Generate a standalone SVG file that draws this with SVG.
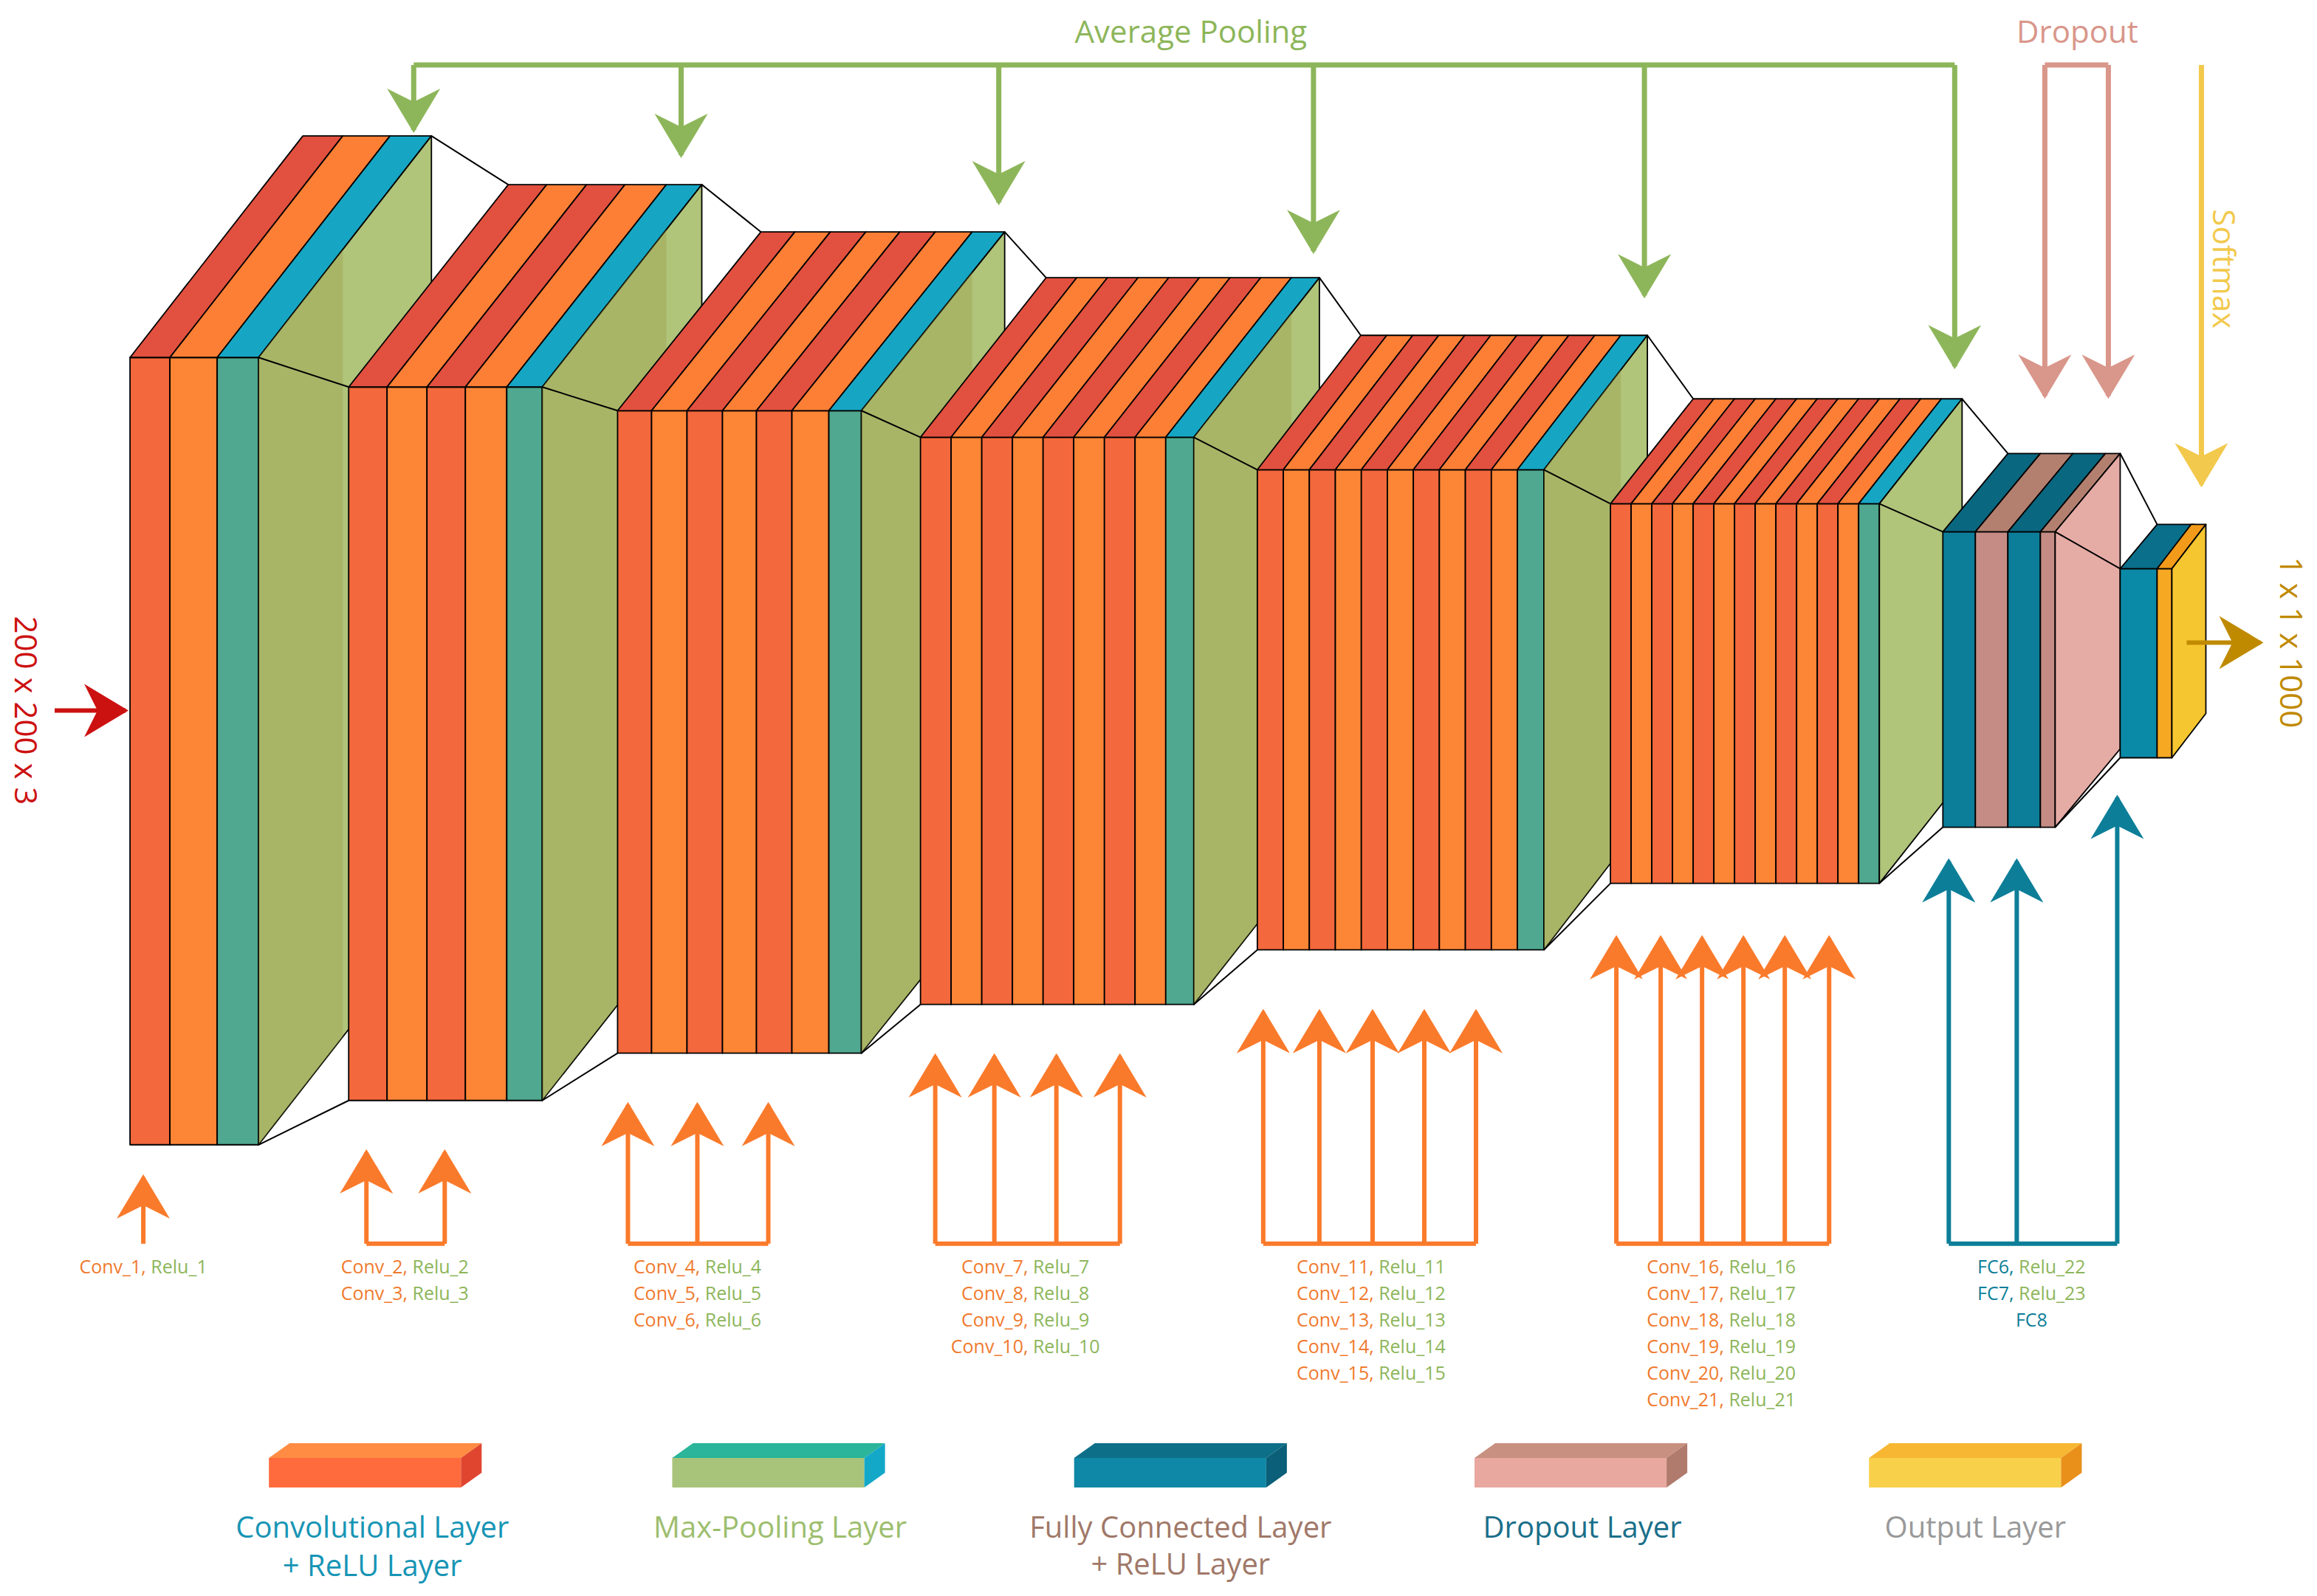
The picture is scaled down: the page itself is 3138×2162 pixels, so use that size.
<svg xmlns="http://www.w3.org/2000/svg" width="3138" height="2162" viewBox="0 0 3138 2162">
<style>
text{font-family:"Open Sans","Noto Sans",sans-serif}
.ol{stroke:#000;stroke-width:0.9;stroke-linejoin:round}
.cfa{fill:#F3683C}.cfb{fill:#FD8536}
.cta{fill:#E2503F}.ctb{fill:#FC7F35}
.pf{fill:#4FA88F}.pt{fill:#16A6C4}.ps{fill:#A2BA63;fill-opacity:0.85}
.ff{fill:#0C7E9A}.ft{fill:#0A6780}.df{fill:#C48C84}.dt{fill:#B38070}.ds{fill:#E2A39B;fill-opacity:0.9}
.ln{fill:none;stroke:#000;stroke-width:1}
.g{fill:none;stroke:#8DB65A;stroke-width:3.5}
.o{fill:none;stroke:#FA7A2B;stroke-width:3}
.t{fill:none;stroke:#0D7E98;stroke-width:3}
.lb{font-size:12.5px;text-anchor:middle}
.co{fill:#F07A2E}.re{fill:#8DB65A}.fc{fill:#0D7E98}
.lg{font-size:20px;text-anchor:middle}
.ov{fill:#9A9A45;fill-opacity:0.35}
</style>
<defs>
<marker id="mg" viewBox="0 0 30 36" refX="28" refY="18" markerWidth="30" markerHeight="36" orient="auto" markerUnits="userSpaceOnUse"><path d="M0,0 L30,18 L0,36 L9,18z" fill="#8DB65A"/></marker>
<marker id="mp" viewBox="0 0 30 36" refX="28" refY="18" markerWidth="30" markerHeight="36" orient="auto" markerUnits="userSpaceOnUse"><path d="M0,0 L30,18 L0,36 L9,18z" fill="#D9968A"/></marker>
<marker id="my" viewBox="0 0 30 36" refX="28" refY="18" markerWidth="30" markerHeight="36" orient="auto" markerUnits="userSpaceOnUse"><path d="M0,0 L30,18 L0,36 L9,18z" fill="#F2C94C"/></marker>
<marker id="mo" viewBox="0 0 30 36" refX="28" refY="18" markerWidth="30" markerHeight="36" orient="auto" markerUnits="userSpaceOnUse"><path d="M0,0 L30,18 L0,36 L9,18z" fill="#FA7A2B"/></marker>
<marker id="mt" viewBox="0 0 30 36" refX="28" refY="18" markerWidth="30" markerHeight="36" orient="auto" markerUnits="userSpaceOnUse"><path d="M0,0 L30,18 L0,36 L9,18z" fill="#0D7E98"/></marker>
<marker id="mr" viewBox="0 0 30 36" refX="28" refY="18" markerWidth="30" markerHeight="36" orient="auto" markerUnits="userSpaceOnUse"><path d="M0,0 L30,18 L0,36 L9,18z" fill="#CC1111"/></marker>
<marker id="mk" viewBox="0 0 30 36" refX="28" refY="18" markerWidth="30" markerHeight="36" orient="auto" markerUnits="userSpaceOnUse"><path d="M0,0 L30,18 L0,36 L9,18z" fill="#C08A00"/></marker>
</defs>
<rect width="3138" height="2162" fill="#fff"/>
<g transform="scale(2.001)">
<g id="block1" class="ol">
<rect class="cfa" x="88" y="242" width="27" height="533"/><path class="cta" d="M88,242 l117,-150 h27 l-117,150z"/>
<rect class="cfb" x="115" y="242" width="32" height="533"/><path class="ctb" d="M115,242 l117,-150 h32 l-117,150z"/>
<rect class="pf" x="147" y="242" width="28" height="533"/><path class="pt" d="M147,242 l117,-150 h28 l-117,150z"/>
<path class="ps" d="M175,242 l117,-150 v533 l-117,150z"/>
<path class="ov" stroke="none" d="M175,242 l57,-73 v533 l-57,73z"/>
</g>
<g id="block2" class="ol">
<rect class="cfa" x="236" y="262" width="26" height="483"/><path class="cta" d="M236,262 l108,-137 h26 l-108,137z"/>
<rect class="cfb" x="262" y="262" width="27" height="483"/><path class="ctb" d="M262,262 l108,-137 h27 l-108,137z"/>
<rect class="cfa" x="289" y="262" width="26" height="483"/><path class="cta" d="M289,262 l108,-137 h26 l-108,137z"/>
<rect class="cfb" x="315" y="262" width="28" height="483"/><path class="ctb" d="M315,262 l108,-137 h28 l-108,137z"/>
<rect class="pf" x="343" y="262" width="24" height="483"/><path class="pt" d="M343,262 l108,-137 h24 l-108,137z"/>
<path class="ps" d="M367,262 l108,-137 v483 l-108,137z"/>
<path class="ov" stroke="none" d="M367,262 l84,-107 v483 l-84,107z"/>
</g>
<g id="block3" class="ol">
<rect class="cfa" x="418" y="278" width="23" height="435"/><path class="cta" d="M418,278 l97,-121 h23 l-97,121z"/>
<rect class="cfb" x="441" y="278" width="24" height="435"/><path class="ctb" d="M441,278 l97,-121 h24 l-97,121z"/>
<rect class="cfa" x="465" y="278" width="24" height="435"/><path class="cta" d="M465,278 l97,-121 h24 l-97,121z"/>
<rect class="cfb" x="489" y="278" width="23" height="435"/><path class="ctb" d="M489,278 l97,-121 h23 l-97,121z"/>
<rect class="cfa" x="512" y="278" width="24" height="435"/><path class="cta" d="M512,278 l97,-121 h24 l-97,121z"/>
<rect class="cfb" x="536" y="278" width="25" height="435"/><path class="ctb" d="M536,278 l97,-121 h25 l-97,121z"/>
<rect class="pf" x="561" y="278" width="22" height="435"/><path class="pt" d="M561,278 l97,-121 h22 l-97,121z"/>
<path class="ps" d="M583,278 l97,-121 v435 l-97,121z"/>
<path class="ov" stroke="none" d="M583,278 l75,-94 v435 l-75,94z"/>
</g>
<g id="block4" class="ol">
<rect class="cfa" x="623" y="296" width="20.75" height="384"/><path class="cta" d="M623,296 l85,-108 h20.75 l-85,108z"/>
<rect class="cfb" x="643.75" y="296" width="20.75" height="384"/><path class="ctb" d="M643.75,296 l85,-108 h20.75 l-85,108z"/>
<rect class="cfa" x="664.5" y="296" width="20.75" height="384"/><path class="cta" d="M664.5,296 l85,-108 h20.75 l-85,108z"/>
<rect class="cfb" x="685.25" y="296" width="20.75" height="384"/><path class="ctb" d="M685.25,296 l85,-108 h20.75 l-85,108z"/>
<rect class="cfa" x="706" y="296" width="20.75" height="384"/><path class="cta" d="M706,296 l85,-108 h20.75 l-85,108z"/>
<rect class="cfb" x="726.75" y="296" width="20.75" height="384"/><path class="ctb" d="M726.75,296 l85,-108 h20.75 l-85,108z"/>
<rect class="cfa" x="747.5" y="296" width="20.75" height="384"/><path class="cta" d="M747.5,296 l85,-108 h20.75 l-85,108z"/>
<rect class="cfb" x="768.25" y="296" width="20.75" height="384"/><path class="ctb" d="M768.25,296 l85,-108 h20.75 l-85,108z"/>
<rect class="pf" x="789" y="296" width="19" height="384"/><path class="pt" d="M789,296 l85,-108 h19 l-85,108z"/>
<path class="ps" d="M808,296 l85,-108 v384 l-85,108z"/>
<path class="ov" stroke="none" d="M808,296 l66,-84 v384 l-66,84z"/>
</g>
<g id="block5" class="ol">
<rect class="cfa" x="851" y="318" width="17.6" height="325"/><path class="cta" d="M851,318 l70,-91 h17.6 l-70,91z"/>
<rect class="cfb" x="868.6" y="318" width="17.6" height="325"/><path class="ctb" d="M868.6,318 l70,-91 h17.6 l-70,91z"/>
<rect class="cfa" x="886.2" y="318" width="17.6" height="325"/><path class="cta" d="M886.2,318 l70,-91 h17.6 l-70,91z"/>
<rect class="cfb" x="903.8" y="318" width="17.6" height="325"/><path class="ctb" d="M903.8,318 l70,-91 h17.6 l-70,91z"/>
<rect class="cfa" x="921.4" y="318" width="17.6" height="325"/><path class="cta" d="M921.4,318 l70,-91 h17.6 l-70,91z"/>
<rect class="cfb" x="939" y="318" width="17.6" height="325"/><path class="ctb" d="M939,318 l70,-91 h17.6 l-70,91z"/>
<rect class="cfa" x="956.6" y="318" width="17.6" height="325"/><path class="cta" d="M956.6,318 l70,-91 h17.6 l-70,91z"/>
<rect class="cfb" x="974.2" y="318" width="17.6" height="325"/><path class="ctb" d="M974.2,318 l70,-91 h17.6 l-70,91z"/>
<rect class="cfa" x="991.8" y="318" width="17.6" height="325"/><path class="cta" d="M991.8,318 l70,-91 h17.6 l-70,91z"/>
<rect class="cfb" x="1009.4" y="318" width="17.6" height="325"/><path class="ctb" d="M1009.4,318 l70,-91 h17.6 l-70,91z"/>
<rect class="pf" x="1027" y="318" width="18" height="325"/><path class="pt" d="M1027,318 l70,-91 h18 l-70,91z"/>
<path class="ps" d="M1045,318 l70,-91 v325 l-70,91z"/>
<path class="ov" stroke="none" d="M1045,318 l52,-68 v325 l-52,68z"/>
</g>
<g id="block6" class="ol">
<rect class="cfa" x="1090" y="341" width="14" height="257"/><path class="cta" d="M1090,341 l56,-71 h14 l-56,71z"/>
<rect class="cfb" x="1104" y="341" width="14" height="257"/><path class="ctb" d="M1104,341 l56,-71 h14 l-56,71z"/>
<rect class="cfa" x="1118" y="341" width="14" height="257"/><path class="cta" d="M1118,341 l56,-71 h14 l-56,71z"/>
<rect class="cfb" x="1132" y="341" width="14" height="257"/><path class="ctb" d="M1132,341 l56,-71 h14 l-56,71z"/>
<rect class="cfa" x="1146" y="341" width="14" height="257"/><path class="cta" d="M1146,341 l56,-71 h14 l-56,71z"/>
<rect class="cfb" x="1160" y="341" width="14" height="257"/><path class="ctb" d="M1160,341 l56,-71 h14 l-56,71z"/>
<rect class="cfa" x="1174" y="341" width="14" height="257"/><path class="cta" d="M1174,341 l56,-71 h14 l-56,71z"/>
<rect class="cfb" x="1188" y="341" width="14" height="257"/><path class="ctb" d="M1188,341 l56,-71 h14 l-56,71z"/>
<rect class="cfa" x="1202" y="341" width="14" height="257"/><path class="cta" d="M1202,341 l56,-71 h14 l-56,71z"/>
<rect class="cfb" x="1216" y="341" width="14" height="257"/><path class="ctb" d="M1216,341 l56,-71 h14 l-56,71z"/>
<rect class="cfa" x="1230" y="341" width="14" height="257"/><path class="cta" d="M1230,341 l56,-71 h14 l-56,71z"/>
<rect class="cfb" x="1244" y="341" width="14" height="257"/><path class="ctb" d="M1244,341 l56,-71 h14 l-56,71z"/>
<rect class="pf" x="1258" y="341" width="14" height="257"/><path class="pt" d="M1258,341 l56,-71 h14 l-56,71z"/>
<path class="ps" d="M1272,341 l56,-71 v257 l-56,71z"/>
</g>
<g id="block7" class="ol">
<rect class="ff" x="1315" y="360" width="22" height="200"/><path class="ft" d="M1315,360 l44,-53 h22 l-44,53z"/>
<rect class="df" x="1337" y="360" width="22" height="200"/><path class="dt" d="M1337,360 l44,-53 h22 l-44,53z"/>
<rect class="ff" x="1359" y="360" width="22" height="200"/><path class="ft" d="M1359,360 l44,-53 h22 l-44,53z"/>
<rect class="df" x="1381" y="360" width="10" height="200"/><path class="dt" d="M1381,360 l44,-53 h10 l-44,53z"/>
<path class="ds" d="M1391,360 l44,-53 v200 l-44,53z"/>
</g>
<g id="output" class="ol">
<rect fill="#0B8AA8" x="1435" y="385" width="25" height="128"/><path fill="#0A6F8A" d="M1435,385 l25,-30 h25 l-25,30z"/>
<rect fill="#F7A823" x="1460" y="385" width="10" height="128"/><path fill="#F29A1A" d="M1460,385 l23,-30 h10 l-23,30z"/>
<path fill="#F6C630" d="M1470,385 l23,-30 v128 l-23,30z"/>
</g>
<g id="connectors">
<path class="ln" d="M175,242L236,262M292,92L344,125M175,775L236,745M367,262L418,278M475,125L515,157M367,745L418,713M583,278L623,296M680,157L708,188M583,713L623,680M808,296L851,318M893,188L921,227M808,680L851,643M1045,318L1090,341M1115,227L1146,270M1045,643L1090,598M1272,341L1315,360M1328,270L1359,307M1272,598L1315,560M1391,360L1435,385M1435,307L1460,355M1391,560L1435,513"/>
<path class="g" d="M280,44H1323"/>
<path class="g" marker-end="url(#mg)" d="M280,44V88"/>
<path class="g" marker-end="url(#mg)" d="M461,44V105"/>
<path class="g" marker-end="url(#mg)" d="M676,44V137"/>
<path class="g" marker-end="url(#mg)" d="M889,44V170"/>
<path class="g" marker-end="url(#mg)" d="M1113,44V200"/>
<path class="g" marker-end="url(#mg)" d="M1323,44V248"/>
<path fill="none" stroke="#D9968A" stroke-width="3.5" d="M1384,44H1427"/>
<path fill="none" stroke="#D9968A" stroke-width="3.5" marker-end="url(#mp)" d="M1384,44V268"/>
<path fill="none" stroke="#D9968A" stroke-width="3.5" marker-end="url(#mp)" d="M1427,44V268"/>
<path fill="none" stroke="#F2C94C" stroke-width="3.5" marker-end="url(#my)" d="M1490,44V328"/>
<path fill="none" stroke="#CC1111" stroke-width="3" marker-end="url(#mr)" d="M37,481H85"/>
<path fill="none" stroke="#C08A00" stroke-width="3" marker-end="url(#mk)" d="M1480,435H1530"/>
<path class="o" marker-end="url(#mo)" d="M97,842V797"/>
<path class="o" d="M248,842H301"/>
<path class="o" marker-end="url(#mo)" d="M248,842V780"/><path class="o" marker-end="url(#mo)" d="M301,842V780"/>
<path class="o" d="M425,842H520"/>
<path class="o" marker-end="url(#mo)" d="M425,842V748"/><path class="o" marker-end="url(#mo)" d="M472,842V748"/><path class="o" marker-end="url(#mo)" d="M520,842V748"/>
<path class="o" d="M633,842H758"/>
<path class="o" marker-end="url(#mo)" d="M633,842V715"/><path class="o" marker-end="url(#mo)" d="M673,842V715"/><path class="o" marker-end="url(#mo)" d="M715,842V715"/><path class="o" marker-end="url(#mo)" d="M758,842V715"/>
<path class="o" d="M855,842H999"/>
<path class="o" marker-end="url(#mo)" d="M855,842V685"/><path class="o" marker-end="url(#mo)" d="M893,842V685"/><path class="o" marker-end="url(#mo)" d="M929,842V685"/><path class="o" marker-end="url(#mo)" d="M964,842V685"/><path class="o" marker-end="url(#mo)" d="M999,842V685"/>
<path class="o" d="M1094,842H1238"/>
<path class="o" marker-end="url(#mo)" d="M1094,842V635"/><path class="o" marker-end="url(#mo)" d="M1124,842V635"/><path class="o" marker-end="url(#mo)" d="M1152,842V635"/><path class="o" marker-end="url(#mo)" d="M1180,842V635"/><path class="o" marker-end="url(#mo)" d="M1208,842V635"/><path class="o" marker-end="url(#mo)" d="M1238,842V635"/>
<path class="t" d="M1319,842H1433"/>
<path class="t" marker-end="url(#mt)" d="M1319,842V583"/><path class="t" marker-end="url(#mt)" d="M1365,842V583"/><path class="t" marker-end="url(#mt)" d="M1433,842V540"/>
</g>
<g id="labels">
<text x="806" y="29" font-size="21" fill="#8DB65A" text-anchor="middle">Average Pooling</text>
<text x="1406" y="29" font-size="21" fill="#D9968A" text-anchor="middle">Dropout</text>
<text transform="translate(1498,182) rotate(90)" font-size="21" fill="#F2C94C" text-anchor="middle">Softmax</text>
<text transform="translate(1543,435) rotate(90)" font-size="21" fill="#C08A00" text-anchor="middle">1 x 1 x 1000</text>
<text transform="translate(10,481) rotate(90)" font-size="21" fill="#CC1111" text-anchor="middle">200 x 200 x 3</text>
<text class="lb" x="97" y="862"><tspan class="co">Conv_1,</tspan> <tspan class="re">Relu_1</tspan></text>
<text class="lb" x="274" y="862"><tspan class="co">Conv_2,</tspan> <tspan class="re">Relu_2</tspan></text>
<text class="lb" x="274" y="880"><tspan class="co">Conv_3,</tspan> <tspan class="re">Relu_3</tspan></text>
<text class="lb" x="472" y="862"><tspan class="co">Conv_4,</tspan> <tspan class="re">Relu_4</tspan></text>
<text class="lb" x="472" y="880"><tspan class="co">Conv_5,</tspan> <tspan class="re">Relu_5</tspan></text>
<text class="lb" x="472" y="898"><tspan class="co">Conv_6,</tspan> <tspan class="re">Relu_6</tspan></text>
<text class="lb" x="694" y="862"><tspan class="co">Conv_7,</tspan> <tspan class="re">Relu_7</tspan></text>
<text class="lb" x="694" y="880"><tspan class="co">Conv_8,</tspan> <tspan class="re">Relu_8</tspan></text>
<text class="lb" x="694" y="898"><tspan class="co">Conv_9,</tspan> <tspan class="re">Relu_9</tspan></text>
<text class="lb" x="694" y="916"><tspan class="co">Conv_10,</tspan> <tspan class="re">Relu_10</tspan></text>
<text class="lb" x="928" y="862"><tspan class="co">Conv_11,</tspan> <tspan class="re">Relu_11</tspan></text>
<text class="lb" x="928" y="880"><tspan class="co">Conv_12,</tspan> <tspan class="re">Relu_12</tspan></text>
<text class="lb" x="928" y="898"><tspan class="co">Conv_13,</tspan> <tspan class="re">Relu_13</tspan></text>
<text class="lb" x="928" y="916"><tspan class="co">Conv_14,</tspan> <tspan class="re">Relu_14</tspan></text>
<text class="lb" x="928" y="934"><tspan class="co">Conv_15,</tspan> <tspan class="re">Relu_15</tspan></text>
<text class="lb" x="1165" y="862"><tspan class="co">Conv_16,</tspan> <tspan class="re">Relu_16</tspan></text>
<text class="lb" x="1165" y="880"><tspan class="co">Conv_17,</tspan> <tspan class="re">Relu_17</tspan></text>
<text class="lb" x="1165" y="898"><tspan class="co">Conv_18,</tspan> <tspan class="re">Relu_18</tspan></text>
<text class="lb" x="1165" y="916"><tspan class="co">Conv_19,</tspan> <tspan class="re">Relu_19</tspan></text>
<text class="lb" x="1165" y="934"><tspan class="co">Conv_20,</tspan> <tspan class="re">Relu_20</tspan></text>
<text class="lb" x="1165" y="952"><tspan class="co">Conv_21,</tspan> <tspan class="re">Relu_21</tspan></text>
<text class="lb" x="1375" y="862"><tspan class="fc">FC6,</tspan> <tspan class="re">Relu_22</tspan></text>
<text class="lb" x="1375" y="880"><tspan class="fc">FC7,</tspan> <tspan class="re">Relu_23</tspan></text>
<text class="lb" x="1375" y="898"><tspan class="fc">FC8</tspan></text>
</g>
<g id="legend">
<g id="leg-conv"><rect x="182" y="987" width="130" height="20" fill="#FF6B3D"/><path d="M182,987 l14,-10 h130 l-14,10z" fill="#FF8C42"/><path d="M312,987 l14,-10 v20 l-14,10z" fill="#E04530"/>
<text class="lg" x="252" y="1041" fill="#1795B5">Convolutional Layer</text><text class="lg" x="252" y="1067" fill="#1795B5">+ ReLU Layer</text></g>
<g id="leg-pool"><rect x="455" y="987" width="130" height="20" fill="#A8C47A"/><path d="M455,987 l14,-10 h130 l-14,10z" fill="#2BB59A"/><path d="M585,987 l14,-10 v20 l-14,10z" fill="#14A8C8"/>
<text class="lg" x="528" y="1041" fill="#9DBE6E">Max-Pooling Layer</text></g>
<g id="leg-fc"><rect x="727" y="987" width="130" height="20" fill="#0E88A6"/><path d="M727,987 l14,-10 h130 l-14,10z" fill="#0E6F88"/><path d="M857,987 l14,-10 v20 l-14,10z" fill="#0B5F78"/>
<text class="lg" x="799" y="1041" fill="#A07868">Fully Connected Layer</text><text class="lg" x="799" y="1066" fill="#A07868">+ ReLU Layer</text></g>
<g id="leg-drop"><rect x="998" y="987" width="130" height="20" fill="#E8A89F"/><path d="M998,987 l14,-10 h130 l-14,10z" fill="#C89080"/><path d="M1128,987 l14,-10 v20 l-14,10z" fill="#B07A6C"/>
<text class="lg" x="1071" y="1041" fill="#1A6F8A">Dropout Layer</text></g>
<g id="leg-out"><rect x="1265" y="987" width="130" height="20" fill="#F8D04A"/><path d="M1265,987 l14,-10 h130 l-14,10z" fill="#F7B733"/><path d="M1395,987 l14,-10 v20 l-14,10z" fill="#E8901A"/>
<text class="lg" x="1337" y="1041" fill="#999999">Output Layer</text></g>
</g>
</g>
</svg>
